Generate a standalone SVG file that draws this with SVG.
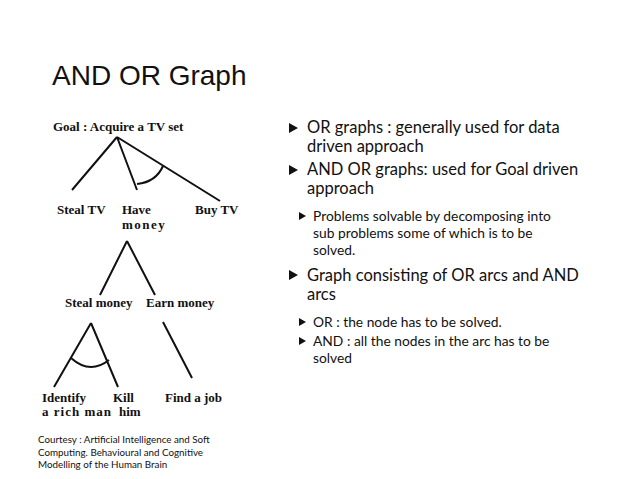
<svg xmlns="http://www.w3.org/2000/svg" width="638" height="479" viewBox="0 0 638 479">
<style>
.t{font-family:"Liberation Serif",serif;font-weight:bold;font-size:13px;fill:#111}
.l{stroke:#111;stroke-width:2;fill:none}
.b{font-family:Lato,"Open Sans",sans-serif;font-size:16.5px;fill:#111}
.s{font-family:Lato,"Open Sans",sans-serif;font-size:13.8px;fill:#111}
.c{font-family:Lato,"Open Sans",sans-serif;font-size:9.8px;fill:#111}
</style>
<rect width="638" height="479" fill="#fff"/>
<text x="52" y="85" font-family="Liberation Sans,sans-serif" font-size="28" fill="#111">AND OR Graph</text>
<g id="connectors">
<path class="l" d="M117 137L72 190M117 137L137 190M117 137L220 201M137 184Q156 182 163 166"/>
<path class="l" d="M127 241L100 295M127 241L155 295"/>
<path class="l" d="M91 323L54 387M91 323L118 387M71 358Q90 375 109 360M163 322L192 378"/>
</g>
<g id="goal"><text class="t" x="53" y="131">Goal : Acquire a TV set</text></g>
<g id="stealtv"><text class="t" x="57" y="214">Steal TV</text></g>
<g id="havemoney"><text class="t" x="122" y="214">Have</text><text class="t" x="122" y="229" letter-spacing="1.5">money</text></g>
<g id="buytv"><text class="t" x="195" y="214">Buy TV</text></g>
<g id="stealmoney"><text class="t" x="65" y="307">Steal money</text></g>
<g id="earnmoney"><text class="t" x="146" y="307">Earn money</text></g>
<g id="identify"><text class="t" x="42" y="402">Identify</text><text class="t" x="42" y="416" letter-spacing="1">a rich man</text></g>
<g id="kill"><text class="t" x="113" y="402">Kill</text><text class="t" x="119" y="416">him</text></g>
<g id="findjob"><text class="t" x="165" y="402">Find a job</text></g>
<g id="courtesy">
<text class="c" x="38" y="443">Courtesy : Artificial Intelligence and Soft</text>
<text class="c" x="38" y="456">Computing. Behavioural  and Cognitive</text>
<text class="c" x="38" y="468">Modelling of the Human Brain</text>
</g>
<g id="bullets" fill="#111">
<path d="M289 123l9 5-9 5z M289 165l9 5-9 5z M289 270l9 5-9 5z"/>
<path d="M299 212l7 4-7 4z M299 318l7 4-7 4z M299 337l7 4-7 4z"/>
<text class="b" x="307" y="133">OR graphs : generally used for data</text>
<text class="b" x="307" y="152">driven approach</text>
<text class="b" x="307" y="175">AND OR graphs: used for Goal driven</text>
<text class="b" x="307" y="194">approach</text>
<text class="s" x="313" y="221">Problems solvable by decomposing into</text>
<text class="s" x="313" y="238">sub problems some of which is to be</text>
<text class="s" x="313" y="255">solved.</text>
<text class="b" x="307" y="281">Graph consisting of OR arcs and AND</text>
<text class="b" x="307" y="300">arcs</text>
<text class="s" x="313" y="327">OR : the node has to be solved.</text>
<text class="s" x="313" y="346">AND : all the nodes in the arc has to be</text>
<text class="s" x="313" y="363">solved</text>
</g>
</svg>
